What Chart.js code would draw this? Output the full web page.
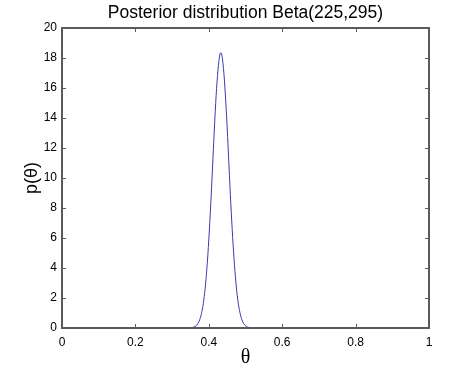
<!DOCTYPE html>
<html><head><meta charset="utf-8">
<script src="https://cdn.jsdelivr.net/npm/chart.js@4/dist/chart.umd.min.js"></script>
<style>html,body{margin:0;padding:0;background:#fff}#wrap{width:474px;height:370px}</style>
</head><body><div id="wrap"><canvas id="c" width="474" height="370"></canvas></div>
<script>
const thetaValues = [0, 0.1, 0.2, 0.3, 0.34, 0.35, 0.355, 0.36, 0.365, 0.37, 0.375, 0.38, 0.385, 0.39, 0.395, 0.40, 0.405, 0.41, 0.415, 0.42, 0.425, 0.43, 0.4325, 0.435, 0.44, 0.445, 0.45, 0.455, 0.46, 0.465, 0.47, 0.475, 0.48, 0.485, 0.49, 0.495, 0.50, 0.505, 0.51, 0.515, 0.52, 0.53, 0.6, 0.7, 0.8, 0.9, 1];
const densityValues = [0, 0, 0, 0, 0, 0.013, 0.03, 0.067, 0.14, 0.28, 0.54, 0.96, 1.64, 2.64, 4.04, 5.87, 8.12, 10.6, 13.2, 15.5, 17.2, 18.2, 18.35, 18.25, 17.3, 15.6, 13.4, 10.8, 8.3, 6.05, 4.18, 2.74, 1.70, 1.01, 0.56, 0.30, 0.15, 0.07, 0.03, 0.015, 0.005, 0, 0, 0, 0, 0, 0];
const xTicks = [0, 0.2, 0.4, 0.6, 0.8, 1];
const yTicks = [0, 2, 4, 6, 8, 10, 12, 14, 16, 18, 20];
const titleText = 'Posterior distribution Beta(225,295)';

const points = thetaValues.map((t, i) => ({x: t, y: densityValues[i]}));

const boxPlugin = {
  id: 'box',
  afterDraw(chart) {
    const {ctx, chartArea: a, scales} = chart;
    ctx.save();
    ctx.strokeStyle = '#5a5a5a';
    ctx.lineWidth = 1;
    const L = 4;
    ctx.beginPath();
    xTicks.forEach(v => {
      const px = Math.round(scales.x.getPixelForValue(v)) + 0.5;
      ctx.moveTo(px, a.bottom); ctx.lineTo(px, a.bottom - L);
      ctx.moveTo(px, a.top); ctx.lineTo(px, a.top + L);
    });
    yTicks.forEach(v => {
      const py = Math.round(scales.y.getPixelForValue(v)) + 0.5;
      ctx.moveTo(a.left, py); ctx.lineTo(a.left + L, py);
      ctx.moveTo(a.right, py); ctx.lineTo(a.right - L, py);
    });
    ctx.stroke();
    ctx.lineWidth = 2;
    ctx.strokeRect(a.left, a.top, a.right - a.left, a.bottom - a.top);
    // title centred over the plot box
    ctx.fillStyle = '#000';
    ctx.font = '17.5px "Liberation Sans", Arial, sans-serif';
    ctx.textAlign = 'center';
    ctx.textBaseline = 'middle';
    ctx.fillText(titleText, (a.left + a.right) / 2, 13);
    ctx.restore();
  }
};

new Chart(document.getElementById('c'), {
  type: 'scatter',
  data: { datasets: [{
    data: points,
    showLine: true,
    borderColor: '#3a3aae',
    borderWidth: 1,
    pointRadius: 0,
    cubicInterpolationMode: 'monotone'
  }]},
  options: {
    responsive: false,
    animation: false,
    layout: { padding: { left: 21, right: 45, top: 28, bottom: 0 } },
    plugins: {
      legend: { display: false },
      tooltip: { enabled: false },
      title: { display: false }
    },
    scales: {
      x: {
        type: 'linear', min: 0, max: 1,
        afterBuildTicks: s => { s.ticks = xTicks.map(v => ({value: v})); },
        afterFit: s => { s.height = 42; },
        grid: { display: false, drawTicks: false },
        border: { display: false },
        ticks: { color: '#000', padding: 7, maxRotation: 0,
          font: { family: 'Liberation Sans, Arial, sans-serif', size: 12 },
          callback: v => String(v) },
        title: { display: true, text: 'θ', color: '#000', padding: 0,
          font: { family: 'Liberation Serif, Times New Roman, serif', size: 20 } }
      },
      y: {
        type: 'linear', min: 0, max: 20,
        afterBuildTicks: s => { s.ticks = yTicks.map(v => ({value: v})); },
        afterFit: s => { s.width = 41; },
        grid: { display: false, drawTicks: false },
        border: { display: false },
        ticks: { color: '#000', padding: 5,
          font: { family: 'Liberation Sans, Arial, sans-serif', size: 12 } },
        title: { display: true, text: 'p(θ)', color: '#000', padding: 0,
          font: { family: 'Liberation Sans, Arial, sans-serif', size: 18 } }
      }
    }
  },
  plugins: [boxPlugin]
});
</script></body></html>
